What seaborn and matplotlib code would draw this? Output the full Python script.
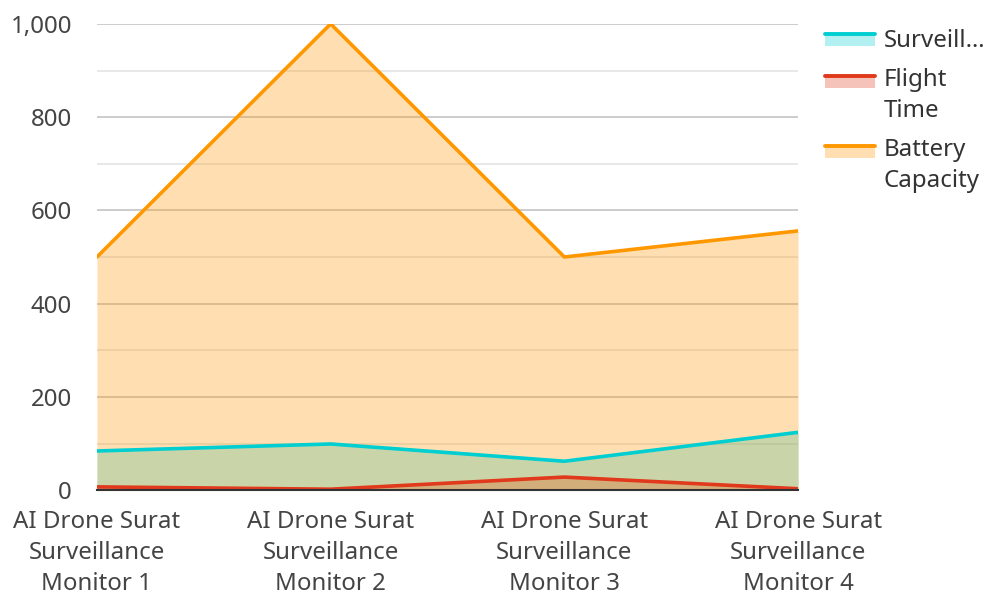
import matplotlib
matplotlib.use("Agg")
import matplotlib.pyplot as plt
import seaborn as sns
import pandas as pd
from matplotlib.patches import Rectangle
from matplotlib.lines import Line2D
from matplotlib.legend_handler import HandlerBase
from matplotlib.ticker import MultipleLocator, FuncFormatter

categories = ["AI Drone Surat\nSurveillance\nMonitor 1", "AI Drone Surat\nSurveillance\nMonitor 2",
              "AI Drone Surat\nSurveillance\nMonitor 3", "AI Drone Surat\nSurveillance\nMonitor 4"]
surveillance = [84, 99, 62, 124]
flight_time = [7, 2, 28, 3]
battery = [500, 1000, 500, 556]
series_names = ["Surveill…", "Flight\nTime", "Battery\nCapacity"]
colors = ["#00CED1", "#E0391B", "#FF9800"]

FS = 17.3
LS = 1.39

sns.set_theme(style="white")
plt.rcParams['font.family'] = ['Noto Sans', 'DejaVu Sans']

fig = plt.figure(figsize=(9.89, 5.97), dpi=100)
ax = fig.add_axes([0.098, 0.179, 0.709, 0.781])

df = pd.DataFrame({"x": list(range(len(categories))) * 3,
                   "value": surveillance + flight_time + battery,
                   "series": sum([[s] * len(categories) for s in series_names], [])})

for name, col in zip(series_names, colors):
    d = df[df.series == name]
    ax.fill_between(d.x, d.value, 0, color=col, alpha=0.3, lw=0, zorder=2)
sns.lineplot(data=df, x="x", y="value", hue="series", palette=colors, lw=2.6,
             legend=False, ax=ax, zorder=3)

ax.set_xlim(0, 3)
ax.set_ylim(0, 1000)
ax.yaxis.set_major_locator(MultipleLocator(200))
ax.yaxis.set_minor_locator(MultipleLocator(100))
ax.yaxis.set_major_formatter(FuncFormatter(lambda v, p: f"{int(v):,}"))
ax.grid(which="major", axis="y", color="#c8c8c8", lw=1.3, zorder=1)
ax.grid(which="minor", axis="y", color="#e6e6e6", lw=1.3, zorder=1)
ax.set_axisbelow(True)
ax.set_xticks(range(len(categories)))
ax.set_xticklabels(categories, linespacing=LS)
ax.tick_params(axis="both", which="both", length=0, labelsize=FS, colors="#444444")
ax.tick_params(axis="x", pad=14.5)
ax.tick_params(axis="y", pad=18)
ax.set_xlabel("")
ax.set_ylabel("")
for s in ["left", "right", "top"]:
    ax.spines[s].set_visible(False)
ax.spines["bottom"].set_color("#333333")
ax.spines["bottom"].set_linewidth(1.5)
ax.spines["bottom"].set_zorder(4)


class AreaHandle:
    def __init__(self, c, nlines):
        self.c = c
        self.nlines = nlines


class AreaHandler(HandlerBase):
    def create_artists(self, legend, oh, xdescent, ydescent, width, height, fontsize, trans):
        shift = (oh.nlines - 1) * 11.2
        top = -ydescent + height * 0.8 + shift
        r = Rectangle((-xdescent, top - 8.6), width, 8.6,
                      facecolor=oh.c, alpha=0.3, lw=0, transform=trans)
        l = Line2D([-xdescent, -xdescent + width], [top, top],
                   color=oh.c, lw=2.8, transform=trans)
        return [r, l]


handles = [AreaHandle(c, n.count("\n") + 1) for c, n in zip(colors, series_names)]
leg = fig.legend(handles, series_names, handler_map={AreaHandle: AreaHandler()},
                 loc="upper left", bbox_to_anchor=(0.834, 0.951), frameon=False,
                 fontsize=FS, handlelength=2.08, handletextpad=0.37, labelspacing=0.62,
                 borderaxespad=0, borderpad=0)
for t in leg.get_texts():
    t.set_color("#333333")
    t.set_linespacing(LS)

fig.savefig("out.png", dpi=100)
